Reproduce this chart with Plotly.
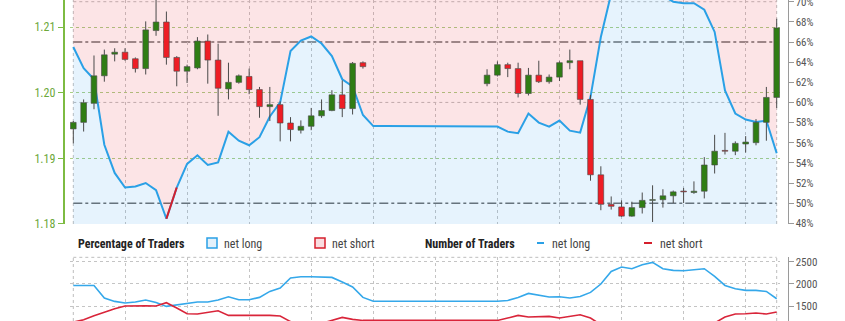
import plotly.graph_objects as go

# ---------------- data ----------------
candle_x = list(range(0, 29)) + list(range(40, 69))
opens = [1.1945, 1.1955, 1.1984, 1.2026, 1.2059, 1.2062, 1.2052, 1.2037, 1.2095, 1.2108,
         1.2054, 1.2033, 1.2038, 1.2079, 1.2050, 1.2006, 1.2016, 1.2025, 1.2005, 1.1979,
         1.1982, 1.1954, 1.1943, 1.1949, 1.1965, 1.1973, 1.1997, 1.1976, 1.2046,
         1.2014, 1.2027, 1.2043, 1.2037, 1.1999, 1.2027, 1.2017, 1.2024, 1.2046, 1.2049,
         1.1990, 1.1875, 1.1830, 1.1826, 1.1812, 1.1825, 1.1836, 1.1837, 1.1843, 1.1850,
         1.1848, 1.1850, 1.1890, 1.1912, 1.1911, 1.1922, 1.1924, 1.1955, 1.1993]
highs = [1.1957, 1.1990, 1.2057, 1.2066, 1.2068, 1.2068, 1.2054, 1.2109, 1.2150, 1.2124,
         1.2056, 1.2043, 1.2085, 1.2089, 1.2075, 1.2046, 1.2028, 1.2037, 1.2009, 1.2009,
         1.1987, 1.1963, 1.1958, 1.1977, 1.1990, 1.2004, 1.2019, 1.2047, 1.2048,
         1.2036, 1.2048, 1.2046, 1.2046, 1.2038, 1.2049, 1.2028, 1.2048, 1.2066, 1.2049,
         1.1997, 1.1888, 1.1842, 1.1836, 1.1834, 1.1848, 1.1859, 1.1853, 1.1851, 1.1855,
         1.1865, 1.1902, 1.1936, 1.1939, 1.1926, 1.1934, 1.1960, 1.2009, 1.2113]
lows = [1.1923, 1.1941, 1.1975, 1.2017, 1.2048, 1.2049, 1.2031, 1.2028, 1.2087, 1.2043,
        1.2010, 1.2015, 1.2036, 1.2014, 1.1965, 1.1990, 1.2014, 1.1998, 1.1962, 1.1957,
        1.1926, 1.1926, 1.1938, 1.1943, 1.1962, 1.1972, 1.1963, 1.1967, 1.2037,
        1.2010, 1.2025, 1.2024, 1.1993, 1.1996, 1.2015, 1.2014, 1.2018, 1.2036, 1.1982,
        1.1866, 1.1821, 1.1822, 1.1811, 1.1811, 1.1816, 1.1803, 1.1825, 1.1832, 1.1832,
        1.1846, 1.1839, 1.1877, 1.1906, 1.1905, 1.1909, 1.1920, 1.1927, 1.1977]
closes = [1.1955, 1.1985, 1.2026, 1.2058, 1.2062, 1.2051, 1.2037, 1.2096, 1.2108, 1.2054,
          1.2033, 1.2040, 1.2079, 1.2050, 1.2007, 1.2016, 1.2026, 1.2005, 1.1979, 1.1982,
          1.1954, 1.1944, 1.1949, 1.1965, 1.1973, 1.1997, 1.1976, 1.2045, 1.2040,
          1.2027, 1.2043, 1.2037, 1.1999, 1.2027, 1.2017, 1.2024, 1.2046, 1.2049, 1.1990,
          1.1875, 1.1830, 1.1827, 1.1812, 1.1825, 1.1836, 1.1837, 1.1843, 1.1849, 1.1849,
          1.1850, 1.1890, 1.1911, 1.1911, 1.1923, 1.1925, 1.1955, 1.1993, 1.2099]

slots = list(range(69))
pct_long = [65.5, 63.4, 62.3, 55.8, 53.0, 51.55, 51.65, 52.0, 51.3, 48.45,
            51.55, 53.9, 54.75, 53.8, 54.05, 57.1, 56.2, 55.75, 56.55, 58.6,
            60.0, 65.1, 66.15, 66.55, 65.85, 64.6, 62.3, 61.6, 58.75,
            57.65, 57.65, 57.65, 57.65, 57.65, 57.65, 57.65, 57.65, 57.65, 57.65, 57.65, 57.65,
            57.6, 57.1, 56.95, 58.9, 58.0, 57.6, 58.2, 57.2, 57.0, 60.55,
            66.5, 70.8, 71.5, 71.8, 71.6, 71.2, 70.6, 70.0, 69.85, 69.85,
            69.2, 67.0, 61.2, 58.9, 58.3, 58.05, 58.2, 54.95]
num_long = [1966, 1966, 1966, 1682, 1606, 1569, 1592, 1637, 1583, 1493,
            1531, 1553, 1592, 1592, 1637, 1711, 1644, 1644, 1696, 1831,
            1907, 2133, 2162, 2162, 2155, 2147, 2043, 1930, 1696,
            1610, 1610, 1610, 1610, 1610, 1610, 1610, 1610, 1610, 1610, 1610, 1610, 1610,
            1628, 1696, 1786, 1741, 1704, 1711, 1682, 1718, 1809,
            1998, 2282, 2381, 2343, 2433, 2485, 2343, 2305, 2298, 2320,
            2343, 2170, 1966, 1892, 1854, 1854, 1831, 1666]
num_short = [1140, 1190, 1280, 1360, 1441, 1501, 1508, 1508, 1501, 1576,
             1456, 1328, 1321, 1366, 1396, 1290, 1290, 1305, 1305, 1290,
             1276, 1150, 1100, 1090, 1110, 1185, 1245, 1200, 1177,
             1177, 1177, 1177, 1177, 1177, 1177, 1177, 1177, 1177, 1177, 1177, 1177, 1177,
             1231, 1290, 1253, 1268, 1268, 1231, 1268, 1305, 1231,
             1080, 1000, 960, 950, 960, 990, 1000, 1000, 1010, 1030,
             1060, 1120, 1253, 1321, 1328, 1343, 1321, 1366]

price_ticks = [1.18, 1.19, 1.20, 1.21]
pct_ticks = [48, 50, 52, 54, 56, 58, 60, 62, 64, 66, 68, 70]
count_ticks = [1500, 2000, 2500]
pct_grid = [60, 70]
pct_refs = [50, 66]
short_seg = [9, 10]

# ---------------- style ----------------
FONT = "Liberation Sans Narrow, Roboto Condensed, DejaVu Sans Condensed, Roboto, sans-serif"
C_UP = "#2f7d14"
C_DN = "#ee1d25"
C_BLUE = "#2aa0e6"
C_RED = "#d51f2c"
GRID = "#c4c4c4"

fig = go.Figure()

# sentiment background fills (percent axis 'y')
fig.add_trace(go.Scatter(x=slots, y=pct_long, mode="lines", line=dict(width=0),
                         fill="tozeroy", fillcolor="rgba(30,150,240,0.11)",
                         xaxis="x", yaxis="y", hoverinfo="skip"))
fig.add_trace(go.Scatter(x=slots, y=[100] * len(slots), mode="lines", line=dict(width=0),
                         fill="tonexty", fillcolor="rgba(230,30,50,0.12)",
                         xaxis="x", yaxis="y", hoverinfo="skip"))
fig.add_trace(go.Scatter(x=slots, y=pct_long, mode="lines",
                         line=dict(color=C_BLUE, width=2), xaxis="x", yaxis="y"))
fig.add_trace(go.Scatter(x=[slots[i] for i in short_seg], y=[pct_long[i] for i in short_seg],
                         mode="lines", line=dict(color=C_RED, width=2), xaxis="x", yaxis="y"))

# candles (price axis 'y2')
wx, wy = [], []
for x, o, h, l, c in zip(candle_x, opens, highs, lows, closes):
    wx += [x, x, None, x, x, None]
    wy += [l, min(o, c), None, max(o, c), h, None]
fig.add_trace(go.Scatter(x=wx, y=wy, mode="lines", line=dict(color="#4a4a4a", width=1),
                         xaxis="x", yaxis="y2", hoverinfo="skip"))
fig.add_trace(go.Bar(
    x=candle_x,
    base=[min(o, c) for o, c in zip(opens, closes)],
    y=[max(abs(c - o), 0.00012) for o, c in zip(opens, closes)],
    width=0.55,
    marker=dict(color=[C_UP if c >= o else C_DN for o, c in zip(opens, closes)],
                line=dict(color="rgba(70,70,70,0.75)", width=0.8)),
    xaxis="x", yaxis="y2"))

# number of traders (bottom)
fig.add_trace(go.Scatter(x=slots, y=num_long, mode="lines", line=dict(color="#35a8ea", width=1.6),
                         xaxis="x2", yaxis="y3"))
fig.add_trace(go.Scatter(x=slots, y=num_short, mode="lines", line=dict(color="#d9253a", width=1.6),
                         xaxis="x2", yaxis="y3"))

shapes = []
dot = dict(color="#bdbdbd", width=1, dash="dot")
for xv in [0, 68]:
    shapes.append(dict(type="line", xref="x", yref="y domain", x0=xv, x1=xv, y0=0, y1=1,
                       line=dot, layer="below"))
    shapes.append(dict(type="line", xref="x2", yref="y3 domain", x0=xv, x1=xv, y0=0, y1=1,
                       line=dot, layer="below"))
shapes.append(dict(type="line", xref="x2", yref="y3 domain", x0=0, x1=68, y0=1, y1=1,
                   line=dot, layer="below"))
for pv in pct_grid:
    shapes.append(dict(type="line", xref="x", yref="y", x0=0, x1=68, y0=pv, y1=pv,
                       line=dot, layer="below"))
for pv in pct_refs:
    shapes.append(dict(type="line", xref="x", yref="y", x0=0, x1=68, y0=pv, y1=pv,
                       line=dict(color="#707070", width=1.5, dash="dashdot"), layer="below"))

# legend row (paper coordinates)
W, H = 845, 321
def px(x):
    return x / W
def py(y):
    return (H - y) / H

shapes.append(dict(type="rect", xref="paper", yref="paper", x0=px(207), x1=px(217),
                   y0=py(248), y1=py(238), line=dict(color=C_BLUE, width=1.5), fillcolor="#e3f1fb"))
shapes.append(dict(type="rect", xref="paper", yref="paper", x0=px(315), x1=px(325),
                   y0=py(248), y1=py(238), line=dict(color=C_RED, width=1.5), fillcolor="#f9dde0"))
shapes.append(dict(type="line", xref="paper", yref="paper", x0=px(537), x1=px(544),
                   y0=py(243), y1=py(243), line=dict(color=C_BLUE, width=2)))
shapes.append(dict(type="line", xref="paper", yref="paper", x0=px(644), x1=px(652),
                   y0=py(243), y1=py(243), line=dict(color=C_RED, width=2)))

ann = []
for x, txt, bold in [(76, "Percentage of Traders", True), (222, "net long", False),
                     (330, "net short", False), (423, "Number of Traders", True),
                     (550, "net long", False), (658, "net short", False)]:
    ann.append(dict(xref="paper", yref="paper", x=px(x), y=py(243.5), xanchor="left", yanchor="middle",
                    text=f"<b>{txt}</b>" if bold else txt, showarrow=False,
                    font=dict(family=FONT, size=12, color="#222" if bold else "#444")))

XDOM = [70 / W, 780 / W]
XR = [-0.319, 68.319]
fig.update_layout(
    width=W, height=H, margin=dict(l=0, r=0, t=0, b=0, pad=0), autosize=False,
    paper_bgcolor="white", plot_bgcolor="white", showlegend=False,
    font=dict(family=FONT),
    shapes=shapes, annotations=ann,
    xaxis=dict(domain=XDOM, range=XR, anchor="y", showticklabels=False, ticks="",
               showgrid=True, gridcolor=GRID, griddash="dot", tick0=5, dtick=6,
               zeroline=False, showline=False, automargin=False),
    yaxis=dict(domain=[0.3022, 1], range=[47.93, 70.17], side="right", anchor="free",
               position=787.5 / W, tickvals=pct_ticks, ticktext=[f"{v}%" for v in pct_ticks],
               showgrid=False, zeroline=False, showline=True, linecolor="#9a9a9a",
               ticks="outside", ticklen=5, tickcolor="#9a9a9a", automargin=False,
               ticklabeloverflow="allow",
               tickfont=dict(family=FONT, size=11, color="#555")),
    yaxis2=dict(overlaying="y", side="left", anchor="free", position=63.5 / W,
                range=[1.18, 1.21416], tickvals=price_ticks, tickformat=".2f",
                showgrid=True, gridcolor="#a9cf86", griddash="dot", zeroline=False,
                showline=True, linecolor="#7dbb42", linewidth=1.5, automargin=False,
                ticks="outside", ticklen=5, tickcolor="#7dbb42", ticklabeloverflow="allow",
                tickfont=dict(family=FONT, size=12, color="#6da83a")),
    xaxis2=dict(domain=XDOM, range=XR, anchor="y3", showticklabels=False, ticks="",
                showgrid=True, gridcolor=GRID, griddash="dot", tick0=5, dtick=6,
                zeroline=False, showline=False, automargin=False),
    yaxis3=dict(domain=[0, 0.1984], range=[1164, 2600], side="right", anchor="free",
                position=787.5 / W, tickvals=count_ticks, automargin=False,
                showgrid=True, gridcolor=GRID, griddash="dot", zeroline=False,
                showline=True, linecolor="#9a9a9a", ticks="outside", ticklen=5, tickcolor="#9a9a9a",
                ticklabeloverflow="allow",
                tickfont=dict(family=FONT, size=11, color="#555")),
)

fig.write_html("out.html")
